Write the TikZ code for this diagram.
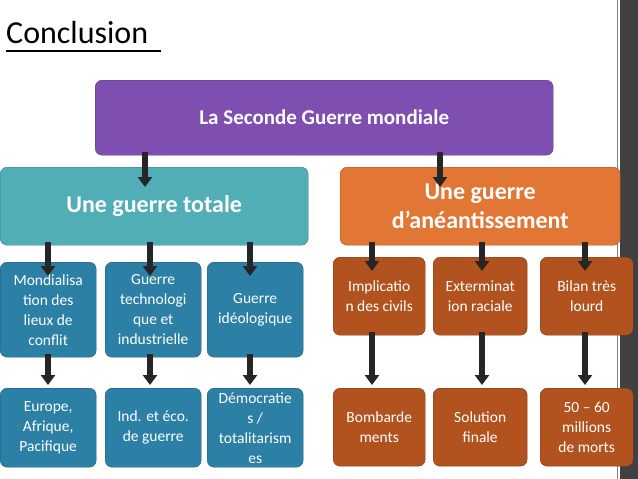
\documentclass[tikz,border=0pt]{standalone}
\usepackage{fontspec}
\setmainfont{Carlito}
\usetikzlibrary{arrows.meta}
\definecolor{purp}{HTML}{7E4FB0}
\definecolor{teal1}{HTML}{52AEB6}
\definecolor{blue1}{HTML}{2C80A6}
\definecolor{oran}{HTML}{E27635}
\definecolor{brown1}{HTML}{B2521F}
\begin{document}
\begin{tikzpicture}[x=1pt,y=-1pt,
  box/.style={draw=#1!70!black,fill=#1,rounded corners=7pt,text=white,align=center,anchor=north west,inner sep=1pt},
  bigt/.style={font=\fontsize{24}{29}\selectfont\bfseries},
  smt/.style={font=\fontsize{15.5}{20}\selectfont},
  arr/.style={line width=6pt,draw=black!85,-{Triangle[width=14pt,length=10pt]},shorten <=-3pt}]
\useasboundingbox (0,0) rectangle (638,479);
\fill[black!75] (620,0) rectangle (638,479);
\draw[gray,line width=1pt] (617,0) -- (617,479);
\node[anchor=west,font=\fontsize{32}{36}\selectfont,inner sep=0pt] (t) at (6,33) {Conclusion};
\draw[line width=1.2pt] (6,51) -- (161,51);
\node[box=purp,minimum width=458,minimum height=75,font=\fontsize{21}{25}\selectfont\bfseries] (p) at (95,80) {La Seconde Guerre mondiale};
\node[box=teal1,minimum width=308,minimum height=78,bigt] (a) at (0,167) {Une guerre totale};
\node[box=oran,minimum width=280,minimum height=78,bigt] (b) at (340,167) {Une guerre\\d’anéantissement};
\foreach \n/\x/\t in {a1/0/{Mondialisa\\tion des\\lieux de\\conflit},a2/105/{Guerre\\technologi\\que et\\industrielle},a3/207/{Guerre\\idéologique}}
  \node[box=blue1,minimum width=96,minimum height=95,smt] (\n) at (\x,262) {\t};
\foreach \n/\x/\t in {c1/0/{Europe,\\Afrique,\\Pacifique},c2/105/{Ind. et éco.\\de guerre},c3/207/{Démocratie\\s /\\totalitarism\\es}}
  \node[box=blue1,minimum width=96,minimum height=79,smt] (\n) at (\x,388) {\t};
\foreach \n/\x/\w/\t in {b1/333/92/{Implicatio\\n des civils},b2/433/94/{Exterminat\\ion raciale},b3/540/93/{Bilan très\\lourd}}
  \node[box=brown1,minimum width=\w,minimum height=78,smt] (\n) at (\x,257) {\t};
\foreach \n/\x/\w/\t in {d1/333/92/{Bombarde\\ments},d2/433/94/{Solution\\finale},d3/540/93/{50 – 60\\millions\\de morts}}
  \node[box=brown1,minimum width=\w,minimum height=78,smt] (\n) at (\x,388) {\t};
\draw[arr] (p.south -| 145,0) -- ([yshift=-20]a.north -| 145,0);
\draw[arr] (p.south -| 440,0) -- ([yshift=-20]b.north -| 440,0);
\foreach \s/\e/\x in {a/a1/48,a/a2/150,a/a3/250}
  \draw[arr] (\s.south -| \x,0) -- ([yshift=-14]\e.north -| \x,0);
\foreach \s/\e/\x in {b/b1/372,b/b2/482,b/b3/585}
  \draw[arr] (\s.south -| \x,0) -- ([yshift=-14]\e.north -| \x,0);
\foreach \s/\e/\x in {a1/c1/48,a2/c2/150,a3/c3/250,b1/d1/372,b2/d2/482,b3/d3/585}
  \draw[arr] (\s.south -| \x,0) -- ([yshift=3]\e.north -| \x,0);
\end{tikzpicture}
\end{document}
